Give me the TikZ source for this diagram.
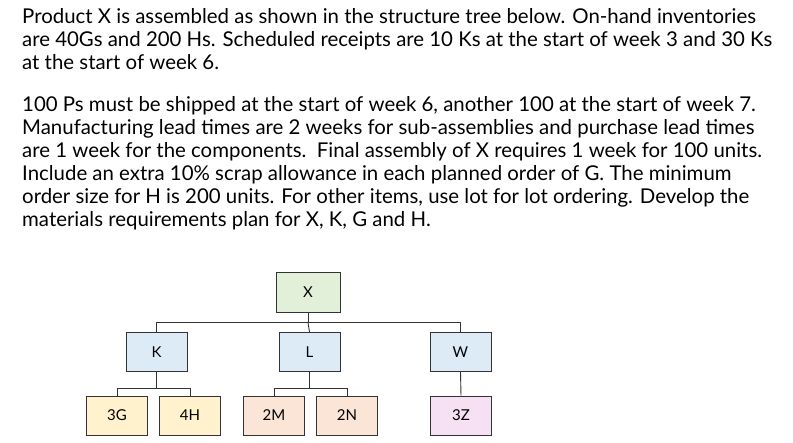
\documentclass[tikz,border=0pt]{standalone}
\usepackage{fontspec}
\setmainfont{Lato}
\definecolor{xgreen}{RGB}{226,240,217}
\definecolor{kblue}{RGB}{221,235,247}
\definecolor{gyellow}{RGB}{255,242,204}
\definecolor{morange}{RGB}{251,229,214}
\definecolor{zpink}{RGB}{246,224,244}
\begin{document}
\begin{tikzpicture}[x=1pt,y=-1pt,
  txt/.style={anchor=base west,inner sep=0pt,font=\fontsize{20.4}{24}\selectfont},
  item/.style={draw=black!80,line width=0.9pt,minimum width=61pt,minimum height=39pt,inner sep=0pt,font=\fontsize{15}{17}\selectfont},
  link/.style={draw=black!80,line width=0.9pt}]
\useasboundingbox (0,0) rectangle (793,443);
% Problem text
\node[txt] (t1) at (22,24) {Product X is assembled as shown in the structure tree below. On-hand inventories};
\node[txt] (t2) at (22,47) {are 40Gs and 200 Hs. Scheduled receipts are 10 Ks at the start of week 3 and 30 Ks};
\node[txt] (t3) at (22,70) {at the start of week 6.};
\node[txt] (t4) at (22,112) {100 Ps must be shipped at the start of week 6, another 100 at the start of week 7.};
\node[txt] (t5) at (22,135) {Manufacturing lead times are 2 weeks for sub-assemblies and purchase lead times};
\node[txt] (t6) at (22,158) {are 1 week for the components.\ \ Final assembly of X requires 1 week for 100 units.};
\node[txt] (t7) at (22,181) {Include an extra 10\% scrap allowance in each planned order of G. The minimum};
\node[txt] (t8) at (22,204) {order size for H is 200 units. For other items, use lot for lot ordering. Develop the};
\node[txt] (t9) at (22,227) {materials requirements plan for X, K, G and H.};

% Structure tree
\node[item,fill=xgreen,minimum width=64pt,minimum height=40pt] (x) at (308,292) {X};
\node[item,fill=kblue] (k) at (156.5,352) {K};
\node[item,fill=kblue] (l) at (309.5,352) {L};
\node[item,fill=kblue] (w) at (460.5,352) {W};
\node[item,fill=gyellow] (g) at (117,415.5) {3G};
\node[item,fill=gyellow] (h) at (190,415.5) {4H};
\node[item,fill=morange] (m) at (274,415.5) {2M};
\node[item,fill=morange] (n) at (347,415.5) {2N};
\node[item,fill=zpink] (z) at (461,415.5) {3Z};

% Links
\draw[link] (x.south) -- ++(0,10) coordinate (xb);
\draw[link] (k.north) |- (xb) -| (w.north);
\draw[link] (xb) -- (l.north);
\draw[link] (k.south) -- ++(0,17) coordinate (kb);
\draw[link] (g.north) |- (kb) -| (h.north);
\draw[link] (l.south) -- ++(0,17) coordinate (lb);
\draw[link] (m.north) |- (lb) -| (n.north);
\draw[link] (w.south) -- (z.north);
\end{tikzpicture}
\end{document}
